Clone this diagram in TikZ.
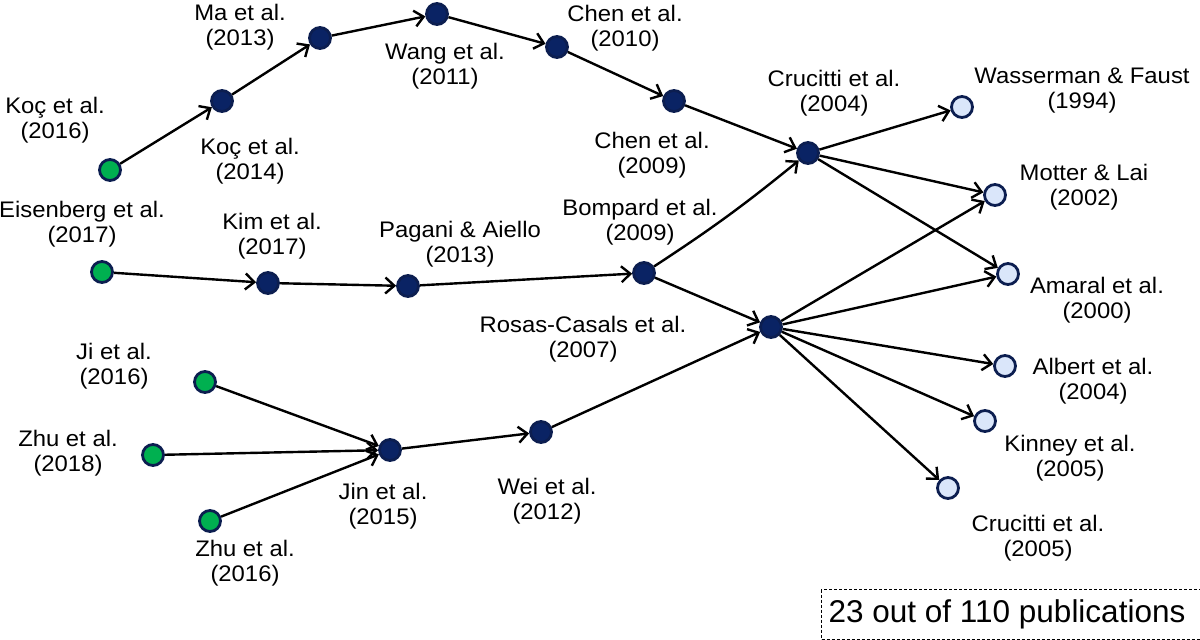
\documentclass[tikz,border=0pt]{standalone}
\usepackage{fontspec}
\setmainfont{Liberation Sans}
\usetikzlibrary{arrows.meta}
\definecolor{navy}{RGB}{10,35,100}
\definecolor{navyb}{RGB}{12,30,80}
\definecolor{gfill}{RGB}{0,176,80}
\definecolor{lfill}{RGB}{218,230,250}
\tikzset{
 pub/.style={circle, draw=navyb, line width=2.8pt, minimum size=21pt, inner sep=0pt},
 dark/.style={pub, fill=navy},
 src/.style={pub, fill=gfill},
 leaf/.style={pub, fill=lfill},
 lab/.style={align=center, font=\fontsize{22.5}{25}\selectfont, inner sep=0pt, xscale=1.06},
 cite/.style={-{Straight Barb[length=9pt,width=16pt]}, line width=2.4pt, black}
}
\begin{document}
\begin{tikzpicture}[x=1pt,y=-1pt]
\useasboundingbox (0,0) rectangle (1200,640);
\clip (0,0) rectangle (1200,640);
% nodes
\node[src]  (k16) at (110,170) {};
\node[dark] (k14) at (222,101) {};
\node[dark] (ma13) at (320,38) {};
\node[dark] (wa11) at (437,14) {};
\node[dark] (ch10) at (557,47) {};
\node[dark] (ch09) at (674,101) {};
\node[dark] (cr04) at (808,153) {};
\node[leaf] (wf94) at (962,107) {};
\node[leaf] (ml02) at (995,195) {};
\node[leaf] (am00) at (1008,274) {};
\node[src]  (ei17) at (102,272) {};
\node[dark] (ki17) at (268,283) {};
\node[dark] (pa13) at (408,286) {};
\node[dark] (bo09) at (644,273) {};
\node[dark] (rc07) at (771,327) {};
\node[leaf] (al04) at (1005,366) {};
\node[leaf] (kn05) at (985,421) {};
\node[leaf] (cr05) at (948,488) {};
\node[src]  (ji16) at (205,382) {};
\node[src]  (zh18) at (153,455) {};
\node[src]  (zh16) at (210,521) {};
\node[dark] (jn15) at (390,450) {};
\node[dark] (we12) at (541,432) {};
% labels
\node[lab] (lk16) at (55,120) {Koç et al.\\(2016)};
\node[lab] (lk14) at (250,161) {Koç et al.\\(2014)};
\node[lab] (lma13) at (240,27) {Ma et al.\\(2013)};
\node[lab] (lwa11) at (445,66) {Wang et al.\\(2011)};
\node[lab] (lch10) at (625,28) {Chen et al.\\(2010)};
\node[lab] (lch09) at (652,155) {Chen et al.\\(2009)};
\node[lab] (lcr04) at (834,93) {Crucitti et al.\\(2004)};
\node[lab] (lwf94) at (1082,91) {Wasserman \& Faust\\(1994)};
\node[lab] (lml02) at (1084,187) {Motter \& Lai\\(2002)};
\node[lab] (lam00) at (1097,300) {Amaral et al.\\(2000)};
\node[lab] (lei17) at (82,224) {Eisenberg et al.\\(2017)};
\node[lab] (lki17) at (272,236) {Kim et al.\\(2017)};
\node[lab] (lpa13) at (460,244) {Pagani \& Aiello\\(2013)};
\node[lab] (lbo09) at (640,222) {Bompard et al.\\(2009)};
\node[lab] (lrc07) at (583,339) {Rosas-Casals et al.\\(2007)};
\node[lab] (lal04) at (1093,381) {Albert et al.\\(2004)};
\node[lab] (lkn05) at (1070,458) {Kinney et al.\\(2005)};
\node[lab] (lcr05) at (1038,538) {Crucitti et al.\\(2005)};
\node[lab] (lji16) at (114,366) {Ji et al.\\(2016)};
\node[lab] (lzh18) at (68,453) {Zhu et al.\\(2018)};
\node[lab] (ljn15) at (383,506) {Jin et al.\\(2015)};
\node[lab] (lwe12) at (547,501) {Wei et al.\\(2012)};
\node[lab] (lzh16) at (245,563) {Zhu et al.\\(2016)};
% edges
\draw[cite] (k16) -- (k14);
\draw[cite] (k14) -- (ma13);
\draw[cite] (ma13) -- (wa11);
\draw[cite] (wa11) -- (ch10);
\draw[cite] (ch10) -- (ch09);
\draw[cite] (ch09) -- (cr04);
\draw[cite] (bo09) to[bend right=3] (cr04);
\draw[cite] (ei17) -- (ki17);
\draw[cite] (ki17) -- (pa13);
\draw[cite] (pa13) -- (bo09);
\draw[cite] (bo09) -- (rc07);
\draw[cite] (ji16) -- (jn15);
\draw[cite] (zh18) -- (jn15);
\draw[cite] (zh16) -- (jn15);
\draw[cite] (jn15) -- (we12);
\draw[cite] (we12) -- (rc07);
\draw[cite] (cr04) -- (wf94);
\draw[cite] (cr04) -- (ml02);
\draw[cite] (cr04) -- (am00);
\draw[cite] (rc07) -- (ml02);
\draw[cite] (rc07) -- (am00);
\draw[cite] (rc07) -- (al04);
\draw[cite] (rc07) -- (kn05);
\draw[cite] (rc07) -- (cr05);
% summary box
\node[draw, dash pattern=on 3pt off 2pt, line width=1pt, minimum width=390pt, minimum height=50pt, anchor=north west, inner sep=0pt] (box) at (821,589) {};
\node[font=\fontsize{31.5}{34}\selectfont, inner sep=0pt] (boxtxt) at (1007,614) {23 out of 110 publications};
\end{tikzpicture}
\end{document}
